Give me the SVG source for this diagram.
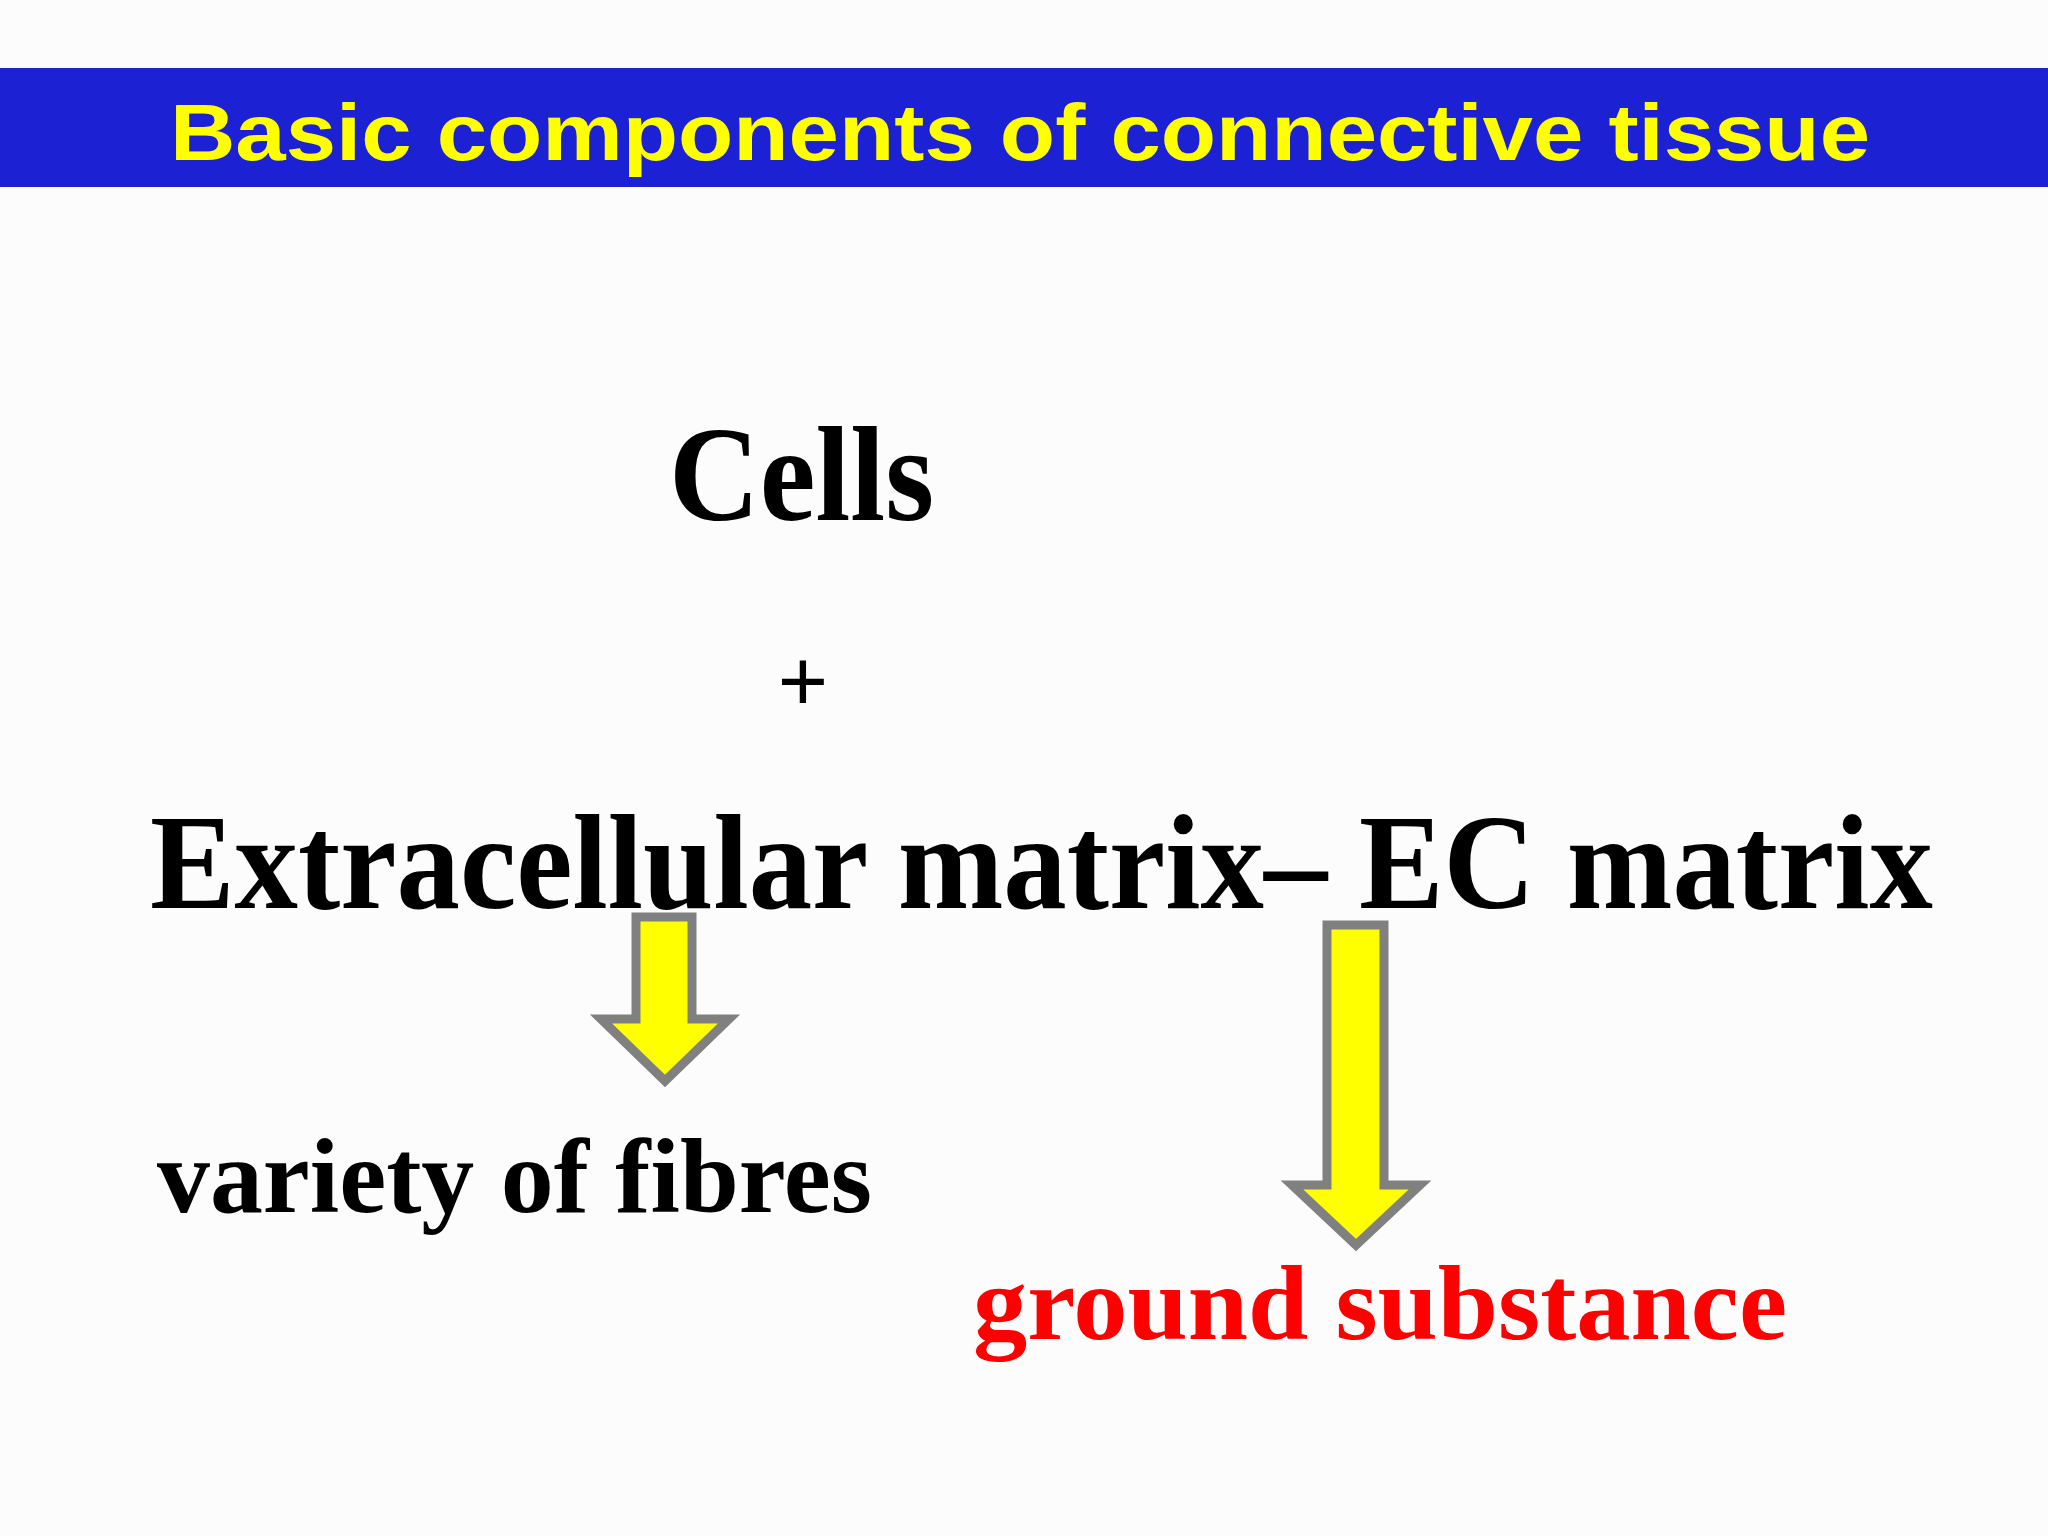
<svg xmlns="http://www.w3.org/2000/svg" width="2048" height="1536" viewBox="0 0 2048 1536">
<style>
.s{font-family:"Liberation Serif","DejaVu Serif",serif;font-weight:bold;fill:#000}
.arr{fill:#ffff00;stroke:#808080;stroke-width:9}
</style>
<rect width="2048" height="1536" fill="#fcfcfc"/>
<g id="title">
<rect x="0" y="68" width="2048" height="119" fill="#1c22d4"/>
<text x="1020" y="160" text-anchor="middle" font-family="Liberation Sans, Arial, sans-serif" font-weight="bold" font-size="80" fill="#ffff00" textLength="1700" lengthAdjust="spacingAndGlyphs">Basic components of connective tissue</text>
</g>
<g id="cells"><text class="s" x="669" y="520" font-size="135" textLength="265" lengthAdjust="spacingAndGlyphs">Cells</text></g>
<g id="plus"><text class="s" x="803" y="712" font-size="90" text-anchor="middle">+</text></g>
<g id="ecm"><text class="s" x="150" y="908" font-size="135" textLength="1783" lengthAdjust="spacingAndGlyphs">Extracellular  matrix– EC matrix</text></g>
<g id="connectors">
<polygon class="arr" points="636,917 692,917 692,1019 729,1019 665,1081 601,1019 636,1019"/>
<polygon class="arr" points="1327,925 1384,925 1384,1185 1420,1185 1356,1245 1292,1185 1327,1185"/>
</g>
<g id="fibres"><text class="s" x="157" y="1212" font-size="105" textLength="715" lengthAdjust="spacingAndGlyphs">variety of fibres</text></g>
<g id="ground"><text class="s" x="973" y="1339" font-size="105" fill="#ff0000" style="fill:#ff0000" textLength="814" lengthAdjust="spacingAndGlyphs">ground substance</text></g>
</svg>
